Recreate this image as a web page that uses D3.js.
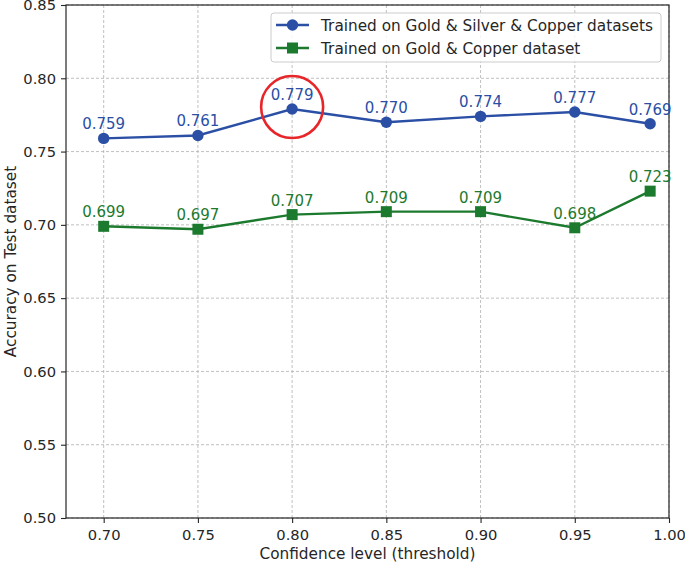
<!DOCTYPE html>
<html>
<head>
<meta charset="utf-8">
<script src="https://cdn.jsdelivr.net/npm/d3@7"></script>
<style>
  body { margin: 0; background: #fff; }
  text { font-family: "DejaVu Sans", sans-serif; }
</style>
</head>
<body>
<svg width="685" height="564"></svg>
<script>
var thresholds = [0.70, 0.75, 0.80, 0.85, 0.90, 0.95, 0.99];
var goldSilverCopper = [0.759, 0.761, 0.779, 0.770, 0.774, 0.777, 0.769];
var goldCopper = [0.699, 0.697, 0.707, 0.709, 0.709, 0.698, 0.723];
var xTicks = [0.70, 0.75, 0.80, 0.85, 0.90, 0.95, 1.00];
var yTicks = [0.50, 0.55, 0.60, 0.65, 0.70, 0.75, 0.80, 0.85];

var blue = "#2a4fa5", green = "#1c7a2e";
var margin = {left: 66, top: 5, right: 16, bottom: 46};
var W = 685, H = 564;

var svg = d3.select("svg");
var x = d3.scaleLinear().domain([0.68, 1.00]).range([margin.left, W - margin.right]);
var y = d3.scaleLinear().domain([0.50, 0.85]).range([H - margin.bottom, margin.top]);

// grid
var grid = svg.append("g").attr("class", "grid");
grid.selectAll("line.gx").data(xTicks).enter().append("line")
    .attr("x1", d => x(d)).attr("x2", d => x(d))
    .attr("y1", y(0.50)).attr("y2", y(0.85))
    .style("stroke", "#b0b0b0").style("stroke-width", 0.8).style("stroke-dasharray", "3,2");
grid.selectAll("line.gy").data(yTicks).enter().append("line")
    .attr("y1", d => y(d)).attr("y2", d => y(d))
    .attr("x1", x(0.68)).attr("x2", x(1.00))
    .style("stroke", "#b0b0b0").style("stroke-width", 0.8).style("stroke-dasharray", "3,2");

// axes
var xAxis = svg.append("g").attr("transform", "translate(0," + y(0.50) + ")")
    .call(d3.axisBottom(x).tickValues(xTicks).tickFormat(d3.format(".2f")).tickSizeOuter(0).tickSize(5).tickPadding(7));
var yAxis = svg.append("g").attr("transform", "translate(" + x(0.68) + ",0)")
    .call(d3.axisLeft(y).tickValues(yTicks).tickFormat(d3.format(".2f")).tickSizeOuter(0).tickSize(5).tickPadding(5));
[xAxis, yAxis].forEach(function(a) {
    a.selectAll("text").style("font-size", "14.7px").style("fill", "#262626");
    a.select(".domain").remove();
    a.selectAll(".tick line").style("stroke", "#262626").style("stroke-width", 1.1);
});

// frame
svg.append("rect")
    .attr("x", x(0.68)).attr("y", y(0.85))
    .attr("width", x(1.00) - x(0.68)).attr("height", y(0.50) - y(0.85))
    .style("fill", "none").style("stroke", "#262626").style("stroke-width", 1.2);

svg.append("text").attr("x", (x(0.68) + x(1.00)) / 2).attr("y", 559)
    .attr("text-anchor", "middle").style("font-size", "15.3px").style("fill", "#262626")
    .text("Confidence level (threshold)");
svg.append("text").attr("transform", "translate(16," + ((y(0.50) + y(0.85)) / 2) + ") rotate(-90)")
    .attr("text-anchor", "middle").style("font-size", "15.3px").style("fill", "#262626")
    .text("Accuracy on Test dataset");

var line = d3.line().x(d => x(d[0])).y(d => y(d[1]));

function series(vals, color, shape) {
    var pts = thresholds.map((t, i) => [t, vals[i]]);
    var g = svg.append("g");
    g.append("path").datum(pts).attr("d", line)
        .style("fill", "none").style("stroke", color).style("stroke-width", 2.4);
    if (shape === "circle") {
        g.selectAll("circle").data(pts).enter().append("circle")
            .attr("cx", d => x(d[0])).attr("cy", d => y(d[1])).attr("r", 5.7)
            .style("fill", color);
    } else {
        g.selectAll("rect").data(pts).enter().append("rect")
            .attr("x", d => x(d[0]) - 5.5).attr("y", d => y(d[1]) - 5.5)
            .attr("width", 11).attr("height", 11).style("fill", color);
    }
    g.selectAll("text").data(pts).enter().append("text")
        .attr("x", d => x(d[0])).attr("y", d => y(d[1]) - 9)
        .attr("text-anchor", "middle").style("font-size", "15px").style("fill", color)
        .text(d => d3.format(".3f")(d[1]));
}
series(goldSilverCopper, blue, "circle");
series(goldCopper, green, "square");

// highlight circle around 0.80
svg.append("circle").attr("cx", x(0.80)).attr("cy", y(0.779) - 2).attr("r", 31)
    .style("fill", "none").style("stroke", "#e8262a").style("stroke-width", 2.6);

// legend
var lg = svg.append("g").attr("transform", "translate(271,13)");
lg.append("rect").attr("width", 390).attr("height", 49).attr("rx", 3)
    .style("fill", "#fff").style("fill-opacity", 0.85).style("stroke", "#cccccc");
var legendItems = [
    {label: "Trained on Gold & Silver & Copper datasets", color: blue, shape: "circle"},
    {label: "Trained on Gold & Copper dataset", color: green, shape: "square"}
];
legendItems.forEach(function(it, i) {
    var cy = 12 + i * 23;
    lg.append("line").attr("x1", 5).attr("x2", 38).attr("y1", cy).attr("y2", cy)
        .style("stroke", it.color).style("stroke-width", 2.4);
    if (it.shape === "circle") {
        lg.append("circle").attr("cx", 21.5).attr("cy", cy).attr("r", 5.7).style("fill", it.color);
    } else {
        lg.append("rect").attr("x", 16).attr("y", cy - 5.5).attr("width", 11).attr("height", 11).style("fill", it.color);
    }
    lg.append("text").attr("x", 50).attr("y", cy + 5.5).style("font-size", "15.3px").style("fill", "#262626")
        .text(it.label);
});
</script>
</body>
</html>
